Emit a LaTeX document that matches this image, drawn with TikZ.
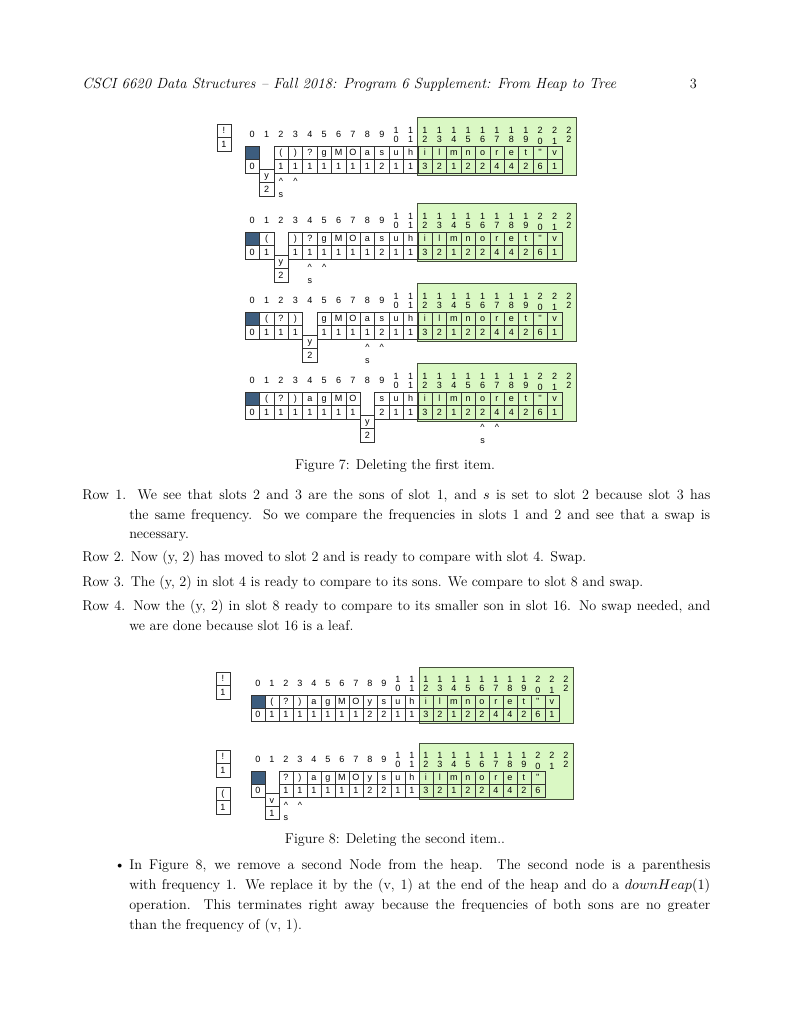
\documentclass[tikz,border=0pt]{standalone}
\usepackage{fontspec}
\newfontfamily\figfont{Liberation Sans}
\definecolor{heapgreen}{RGB}{218,248,196}
\definecolor{heapblue}{RGB}{61,93,126}
\definecolor{greenedge}{RGB}{70,80,60}
\def\hcw{14.4}\def\hch{13.5}
\def\pn{a}
\newcommand\qq{\textquotesingle\textquotesingle}
\newcommand\hpcell[3]{%
  \draw[cellb] ({#1*\hcw},0) rectangle ++(\hcw,\hch);
  \draw[cellb] ({#1*\hcw},\hch) rectangle ++(\hcw,\hch);
  \node[ft] (\pn-c#1) at ({(#1+0.5)*\hcw},{0.5*\hch}) {#2};
  \node[ft] (\pn-f#1) at ({(#1+0.5)*\hcw},{1.5*\hch}) {#3};}
\newcommand\hpdrop[3]{%
  \draw[cellb] ({#1*\hcw},23) rectangle ++(\hcw,\hch);
  \draw[cellb] ({#1*\hcw},{23+\hch}) rectangle ++(\hcw,\hch);
  \node[ft] (\pn-dc) at ({(#1+0.5)*\hcw},{23+0.5*\hch}) {#2};
  \node[ft] (\pn-df) at ({(#1+0.5)*\hcw},{23+1.5*\hch}) {#3};}
\newcommand\hpframe{%
  \fill[heapgreen] ({12*\hcw},-28.3) rectangle ({23*\hcw},29.7);
  \draw[greenedge,line width=0.6pt] ({12*\hcw},-28.3) rectangle ({23*\hcw},29.7);
  \foreach \i in {0,...,9} \node[ft] (\pn-i\i) at ({(\i+0.5)*\hcw},-12) {\i};
  \foreach \i/\a/\b in {10/1/0,11/1/1,12/1/2,13/1/3,14/1/4,15/1/5,16/1/6,17/1/7,18/1/8,19/1/9,22/2/2}{
    \node[ft] (\pn-ia\i) at ({(\i+0.5)*\hcw},-16) {\a};
    \node[ft] (\pn-ib\i) at ({(\i+0.5)*\hcw},-6.5) {\b};}
  \foreach \i/\a/\b in {20/2/0,21/2/1}{
    \node[ft] (\pn-ia\i) at ({(\i+0.5)*\hcw},-16) {\a};
    \node[ft] (\pn-ib\i) at ({(\i+0.5)*\hcw},-5) {\b};}
  \filldraw[cellb,fill=heapblue] (0,0) rectangle ++(\hcw,\hch);
  \draw[cellb] (0,\hch) rectangle ++(\hcw,\hch);
  \node[ft] (\pn-f0) at ({0.5*\hcw},{1.5*\hch}) {0};
  \foreach \s/\c/\f in {12/i/3,13/l/2,14/m/1,15/n/2,16/o/2,17/r/4,18/e/4,19/t/2,20/{\qq}/6}{\hpcell{\s}{\c}{\f}}}
\newcommand\hpcaret[1]{%
  \node[ft] (\pn-k1) at ({(#1+0.5)*\hcw},35) {\textasciicircum};
  \node[ft] (\pn-k2) at ({(#1+1.5)*\hcw},35) {\textasciicircum};
  \node[ft] (\pn-s) at ({(#1+0.5)*\hcw},48) {s};}
\newcommand\hpside[5]{%
  \draw[cellb] (#1,#2) rectangle ++(14,13.5);
  \draw[cellb] (#1,{#2+13.5}) rectangle ++(14,13.5);
  \node[ft] (#5a) at ({#1+7},{#2+6.75}) {#3};
  \node[ft] (#5b) at ({#1+7},{#2+20.25}) {#4};}
\tikzset{
  cellb/.style={draw=black!80,line width=0.45pt},
  ft/.style={font=\figfont\fontsize{7}{8}\selectfont,inner sep=0pt,text height=5pt,text depth=0pt},
  txt/.style={anchor=base west,inner sep=0pt,font=\fontsize{11}{13.6}\selectfont},
}
\begin{document}
\begin{tikzpicture}[x=0.7737pt,y=-0.7737pt]
\useasboundingbox (0,0) rectangle (791,1024);
\fill[white] (0,0) rectangle (791,1024);
% header
\node[txt,font=\fontsize{11.4}{14}\selectfont] (hdr) at (82,88.5) {\itshape CSCI 6620 Data Structures -- Fall 2018: Program 6 Supplement: From Heap to Tree};
\node[txt,anchor=base east] (pg) at (697,88.5) {3};
% Figure 7
\hpside{217}{124}{!}{1}{sa}
\begin{scope}[shift={(245,146)}]
  \def\pn{a}\hpframe
  \foreach \s/\c/\f in {2/(/1,3/)/1,4/?/1,5/g/1,6/M/1,7/O/1,8/a/1,9/s/2,10/u/1,11/h/1,21/v/1}{\hpcell{\s}{\c}{\f}}
  \hpdrop{1}{y}{2}\hpcaret{2}
\end{scope}
\begin{scope}[shift={(245,232)}]
  \def\pn{b}\hpframe
  \foreach \s/\c/\f in {1/(/1,3/)/1,4/?/1,5/g/1,6/M/1,7/O/1,8/a/1,9/s/2,10/u/1,11/h/1,21/v/1}{\hpcell{\s}{\c}{\f}}
  \hpdrop{2}{y}{2}\hpcaret{4}
\end{scope}
\begin{scope}[shift={(245,312)}]
  \def\pn{c}\hpframe
  \foreach \s/\c/\f in {1/(/1,2/?/1,3/)/1,5/g/1,6/M/1,7/O/1,8/a/1,9/s/2,10/u/1,11/h/1,21/v/1}{\hpcell{\s}{\c}{\f}}
  \hpdrop{4}{y}{2}\hpcaret{8}
\end{scope}
\begin{scope}[shift={(245,392)}]
  \def\pn{d}\hpframe
  \foreach \s/\c/\f in {1/(/1,2/?/1,3/)/1,4/a/1,5/g/1,6/M/1,7/O/1,9/s/2,10/u/1,11/h/1,21/v/1}{\hpcell{\s}{\c}{\f}}
  \hpdrop{8}{y}{2}\hpcaret{16}
\end{scope}
\node[txt,anchor=base] (cap7) at (395,469.5) {Figure 7: Deleting the first item.};
% rows text
\node[txt] (r1a) at (82,499.5) {\makebox[485.9pt][s]{Row 1. We see that slots 2 and 3 are the sons of slot 1, and $s$ is set to slot 2 because slot 3 has}};
\node[txt] (r1b) at (129,519) {\makebox[449.5pt][s]{the same frequency. So we compare the frequencies in slots 1 and 2 and see that a swap is}};
\node[txt] (r1c) at (129,538.5) {necessary.};
\node[txt] (r2) at (82,561.5) {Row 2. Now (y, 2) has moved to slot 2 and is ready to compare with slot 4. Swap.};
\node[txt] (r3) at (82,586) {Row 3. The (y, 2) in slot 4 is ready to compare to its sons. We compare to slot 8 and swap.};
\node[txt] (r4a) at (82,610.5) {\makebox[485.9pt][s]{Row 4. Now the (y, 2) in slot 8 ready to compare to its smaller son in slot 16. No swap needed, and}};
\node[txt] (r4b) at (129,630.5) {we are done because slot 16 is a leaf.};
% Figure 8
\hpside{216}{672}{!}{1}{sb}
\begin{scope}[shift={(251,695)},scale=0.972]
  \def\pn{e}\hpframe
  \foreach \s/\c/\f in {1/(/1,2/?/1,3/)/1,4/a/1,5/g/1,6/M/1,7/O/1,8/y/2,9/s/2,10/u/1,11/h/1,21/v/1}{\hpcell{\s}{\c}{\f}}
\end{scope}
\hpside{216}{750}{!}{1}{sc}
\hpside{216}{787}{(}{1}{sd}
\begin{scope}[shift={(251,771)},scale=0.972]
  \def\pn{f}\hpframe
  \foreach \s/\c/\f in {2/?/1,3/)/1,4/a/1,5/g/1,6/M/1,7/O/1,8/y/2,9/s/2,10/u/1,11/h/1}{\hpcell{\s}{\c}{\f}}
  \hpdrop{1}{v}{1}\hpcaret{2}
\end{scope}
\node[txt,anchor=base] (cap8) at (395,843.5) {Figure 8: Deleting the second item..};
\node[txt] (bul) at (114,869.5) {\textbullet};
\node[txt] (b1) at (129,869.5) {\makebox[449.5pt][s]{In Figure 8, we remove a second Node from the heap. The second node is a parenthesis}};
\node[txt] (b2) at (129,889.5) {\makebox[449.5pt][s]{with frequency 1. We replace it by the (v, 1) at the end of the heap and do a $downHeap(1)$}};
\node[txt] (b3) at (129,909.5) {\makebox[449.5pt][s]{operation. This terminates right away because the frequencies of both sons are no greater}};
\node[txt] (b4) at (129,929.5) {than the frequency of (v, 1).};
\end{tikzpicture}
\end{document}
